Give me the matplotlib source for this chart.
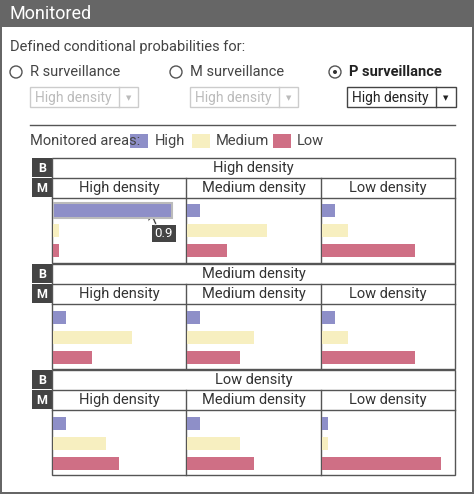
import matplotlib
matplotlib.use("Agg")
import matplotlib.pyplot as plt
from matplotlib.patches import Rectangle, Circle, Polygon
from matplotlib import font_manager

names = {f.name for f in font_manager.fontManager.ttflist}
FONT = 'Liberation Sans Narrow' if 'Liberation Sans Narrow' in names else 'Roboto'
plt.rcParams['font.family'] = [FONT, 'DejaVu Sans']

densities = ["High density", "Medium density", "Low density"]
areas = ["High", "Medium", "Low"]
colors = ["#8e8fc8", "#f7efc0", "#cf6f85"]
# values[b][m] = [High, Medium, Low]
values_b_high = [[0.9, 0.05, 0.05], [0.1, 0.6, 0.3], [0.1, 0.2, 0.7]]
values_b_medium = [[0.1, 0.6, 0.3], [0.1, 0.5, 0.4], [0.1, 0.2, 0.7]]
values_b_low = [[0.1, 0.4, 0.5], [0.1, 0.4, 0.5], [0.05, 0.05, 0.9]]
values = [values_b_high, values_b_medium, values_b_low]

W, H = 474, 494
fig = plt.figure(figsize=(W/100, H/100), dpi=100)
ax = fig.add_axes([0, 0, 1, 1])
ax.set_xlim(0, W); ax.set_ylim(H, 0); ax.axis('off')

def fx(x): return x / W
def fy(y): return 1 - y / H

# frame
ax.add_patch(Rectangle((0, 0), W, H, facecolor='#666666', edgecolor='none'))
ax.add_patch(Rectangle((2, 27), W-4, H-29, facecolor='white', edgecolor='none'))
ax.text(10, 14, "Monitored", color='white', fontsize=13, va='center')
ax.text(10, 47, "Defined conditional probabilities for:", color='#444444', fontsize=10.5, va='center')

radio = [(16, "R surveillance", False), (176, "M surveillance", False), (335, "P surveillance", True)]
for x, lab, sel in radio:
    ax.add_patch(Circle((x, 72), 6, facecolor='white', edgecolor='#555555', lw=1))
    if sel:
        ax.add_patch(Circle((x, 72), 2, facecolor='#333333', edgecolor='none'))
    ax.text(x + 14, 72, lab, fontsize=10.5, va='center', color='#222222' if sel else '#444444',
            fontweight='bold' if sel else 'normal')
drops = [(30, 138, 119, False), (190, 298, 279, False), (347, 456, 436, True)]
for x0, x1, xs, act in drops:
    ec = '#444444' if act else '#cccccc'
    tc = '#222222' if act else '#bbbbbb'
    ax.add_patch(Rectangle((x0, 87), x1-x0, 20, facecolor='white', edgecolor=ec, lw=1))
    ax.plot([xs, xs], [87, 107], color=ec, lw=1)
    ax.text(x0 + 5, 97.5, "High density", fontsize=10, va='center', color=tc)
    ax.text((xs + x1) / 2, 98, "▼", fontsize=5, ha='center', va='center', color=tc, family='DejaVu Sans')

ax.plot([30, 455], [125, 125], color='#555555', lw=1)
ax.text(30, 141, "Monitored areas:", fontsize=10.5, va='center', color='#444444')
for (sx, tx), lab, c in zip([(130, 155), (192, 216), (273, 297)], areas, colors):
    ax.add_patch(Rectangle((sx, 134), 18, 14, facecolor=c, edgecolor='none'))
    ax.text(tx, 141, lab, fontsize=10.5, va='center', color='#444444')

gx0, gx1 = 52, 455
cols = [52, 186, 321, 455]
tops = [158, 264, 370]
for bi, top in enumerate(tops):
    # B and M labels
    ax.add_patch(Rectangle((32, top), 20, 19, facecolor='#444444', edgecolor='none'))
    ax.add_patch(Rectangle((32, top + 20), 20, 19, facecolor='#444444', edgecolor='none'))
    ax.text(42, top + 10, "B", color='white', fontsize=9, ha='center', va='center', fontweight='bold')
    ax.text(42, top + 30, "M", color='white', fontsize=9, ha='center', va='center', fontweight='bold')
    ax.add_patch(Rectangle((gx0, top), gx1-gx0, 105, facecolor='none', edgecolor='#555555', lw=1))
    ax.plot([gx0, gx1], [top + 20, top + 20], color='#555555', lw=1)
    ax.plot([gx0, gx1], [top + 40, top + 40], color='#555555', lw=1)
    ax.text((gx0 + gx1) / 2, top + 10, densities[bi], fontsize=10.5, ha='center', va='center', color='#333333')
    for mi in range(3):
        c0, c1 = cols[mi], cols[mi + 1]
        if mi > 0:
            ax.plot([c0, c0], [top + 20, top + 105], color='#555555', lw=1)
        ax.text((c0 + c1) / 2, top + 30, densities[mi], fontsize=10.5, ha='center', va='center', color='#333333')
        bax = fig.add_axes([fx(c0 + 0.5), fy(top + 105), (c1 - c0 - 1) / W, 64 / H])
        bax.barh([0, 1, 2], values[bi][mi], height=0.65, color=colors)
        bax.set_xlim(0, 1.0); bax.set_ylim(2.6, -0.6)
        bax.axis('off')
        if bi == 0 and mi == 0:
            v = values[bi][mi][0]
            bax.barh([0], [v], height=0.75, color='none', edgecolor='#bbbbbb', lw=1.5)

# tooltip and cursor
ax.add_patch(Rectangle((152, 225), 24, 17, facecolor='#444444', edgecolor='none'))
ax.text(164, 233.5, "0.9", color='white', fontsize=9.5, ha='center', va='center')
ax.add_patch(Polygon([(148, 207), (148, 222), (152, 218), (155, 225), (157, 224), (154, 217), (159, 217)],
                     closed=True, facecolor='#444444', edgecolor='white', lw=0.6))

fig.savefig("out.png", dpi=100)
